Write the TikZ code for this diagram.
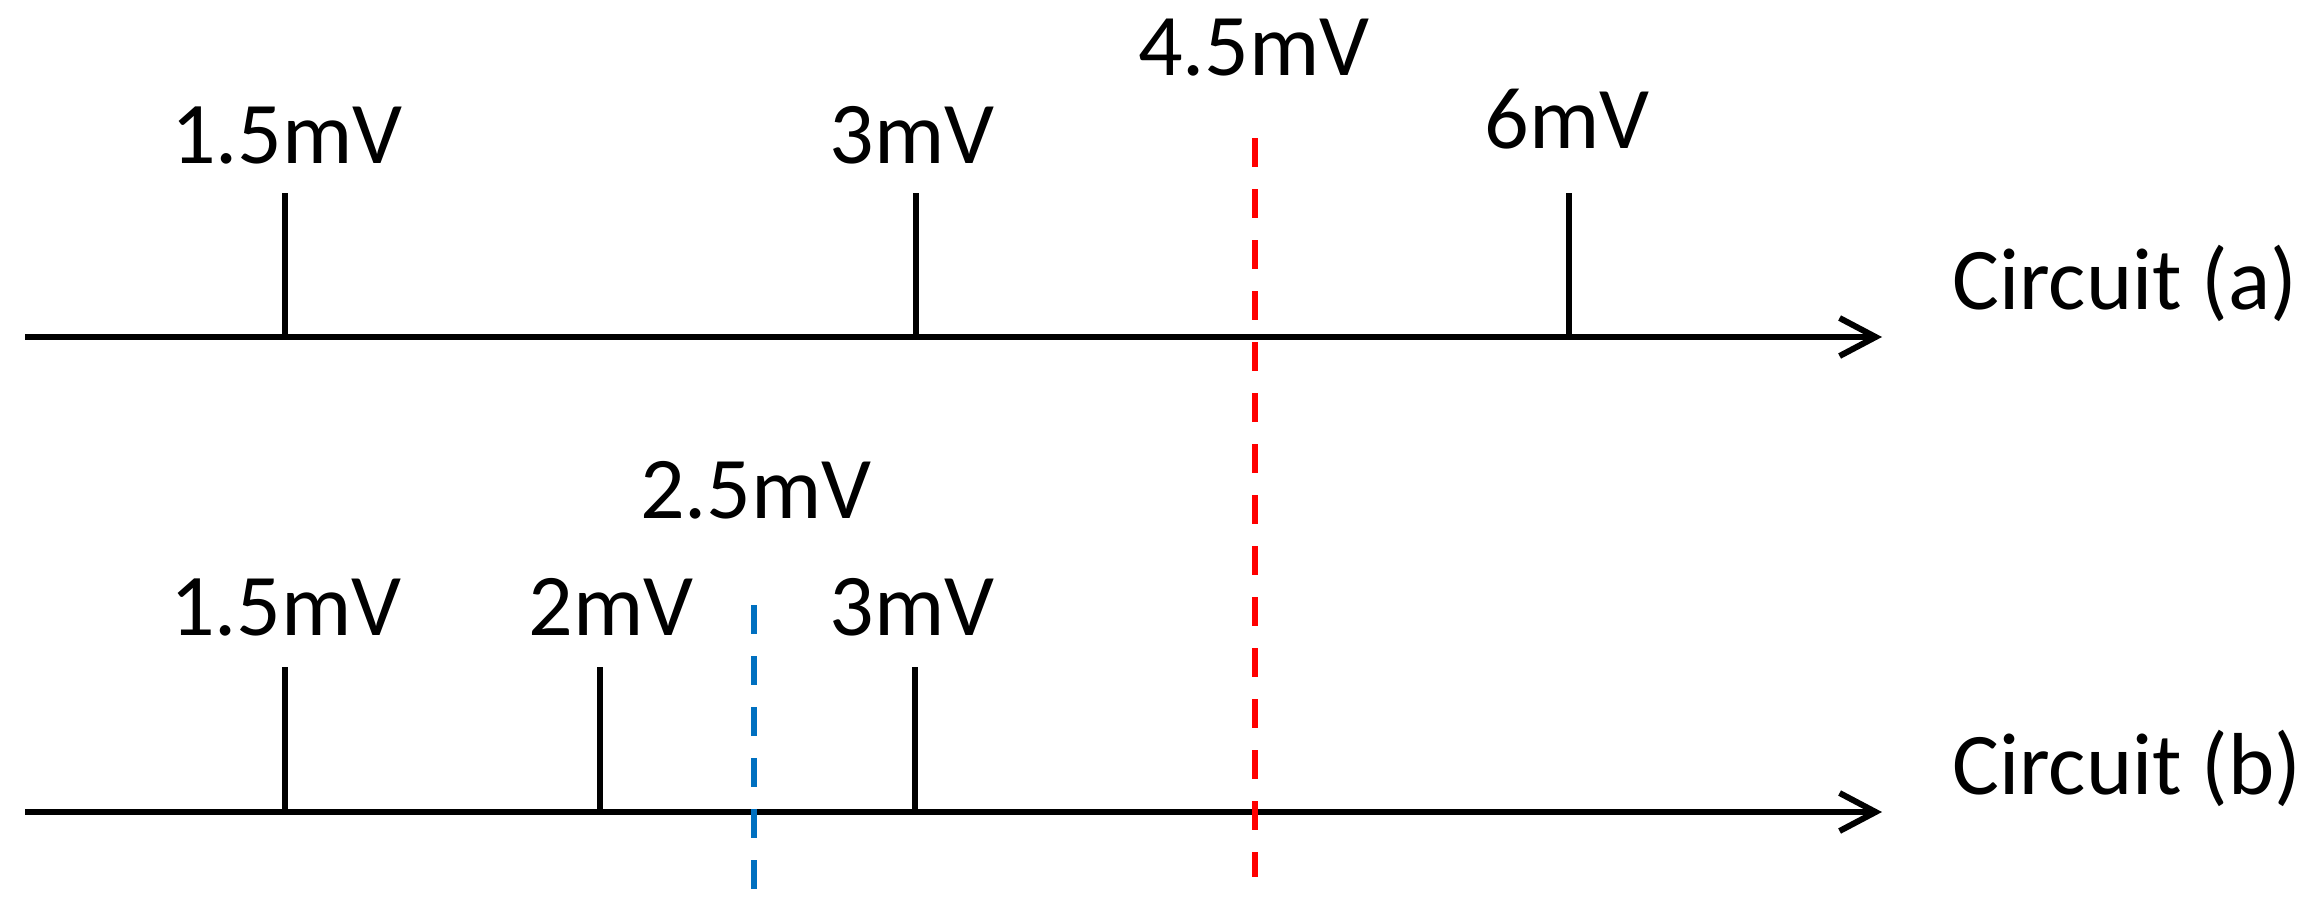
\documentclass[tikz,border=0pt]{standalone}
\usepackage{fontspec}
\setmainfont{Carlito}
\usetikzlibrary{arrows.meta}
\definecolor{markred}{RGB}{255,0,0}
\definecolor{markblue}{RGB}{0,112,192}
\begin{document}
\begin{tikzpicture}[x=0.5pt,y=-0.5pt,
  axisline/.style={line width=3pt,-{Straight Barb[length=18pt,width=19pt,line width=3pt]}},
  tickline/.style={line width=3pt},
  marker/.style={line width=3pt,dash pattern=on 14.5pt off 11pt},
  lbl/.style={anchor=base,inner sep=0pt,font=\fontsize{44pt}{50pt}\selectfont},
  axlbl/.style={anchor=base west,inner sep=0pt,font=\fontsize{44pt}{50pt}\selectfont}]
\useasboundingbox (0,0) rectangle (2323,907);
% axis (a)
\coordinate (a0) at (25,337);
\coordinate (a1) at (1882,337);
\coordinate (ta1) at (285,337);  \coordinate (ta1t) at (285,193);
\coordinate (ta2) at (916,337);  \coordinate (ta2t) at (916,193);
\coordinate (ta3) at (1569,337); \coordinate (ta3t) at (1569,193);
\draw[axisline] (a0) -- (a1);
\draw[tickline] (ta1) -- (ta1t);
\draw[tickline] (ta2) -- (ta2t);
\draw[tickline] (ta3) -- (ta3t);
\node[lbl] (la1) at (287,163) {1.5mV};
\node[lbl] (la2) at (912,163) {3mV};
\node[lbl] (la3) at (1567,148) {6mV};
\node[lbl] (la45) at (1254,75) {4.5mV};
\node[axlbl] (ca) at (1952,309) {Circuit (a)};
% axis (b)
\coordinate (b0) at (25,812);
\coordinate (b1) at (1882,812);
\coordinate (tb1) at (285,812); \coordinate (tb1t) at (285,667);
\coordinate (tb2) at (600,812); \coordinate (tb2t) at (600,667);
\coordinate (tb3) at (915,812); \coordinate (tb3t) at (915,667);
\draw[axisline] (b0) -- (b1);
\draw[tickline] (tb1) -- (tb1t);
\draw[tickline] (tb2) -- (tb2t);
\draw[tickline] (tb3) -- (tb3t);
\node[lbl] (lb1) at (286,635) {1.5mV};
\node[lbl] (lb2) at (611,635) {2mV};
\node[lbl] (lb3) at (912,635) {3mV};
\node[lbl] (lb25) at (756,518) {2.5mV};
\node[axlbl] (cb) at (1952,794) {Circuit (b)};
% threshold markers
\coordinate (r0) at (1255,138); \coordinate (r1) at (1255,877);
\coordinate (u0) at (754,605);  \coordinate (u1) at (754,890);
\draw[marker,markred] (r0) -- (r1);
\draw[marker,markblue] (u0) -- (u1);
\end{tikzpicture}
\end{document}
